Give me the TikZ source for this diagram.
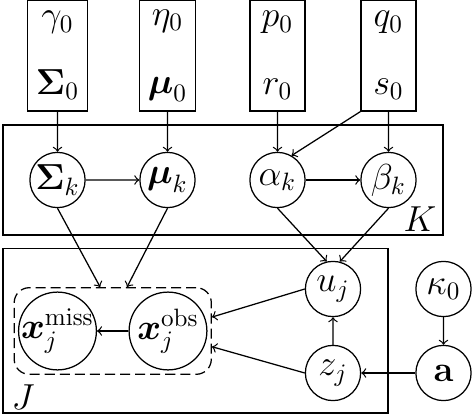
\documentclass[tikz,border=0pt]{standalone}
\usepackage{amsmath}
\usepackage{amssymb}
\usepackage{tikz}
\usetikzlibrary{arrows,fit}

\begin{document}
\begin{tikzpicture}[scale=0.7, line width=0.5pt,
  every node/.style={font=\fontsize{14}{17}\selectfont},
  latent/.style={circle,draw,minimum size=22pt,inner sep=0pt},
  obsnode/.style={circle,draw,minimum size=31pt,inner sep=-1pt},
  hyper/.style={rectangle,draw,minimum width=21.9pt,minimum height=44.2pt,align=center}]
\useasboundingbox (0,0) rectangle (9.48,8.34);
%%%%% Hyperparameters %%%%%
\node[hyper] (gs) at (1.15,7.23) {$\gamma_0$\\[10pt]$\boldsymbol{\Sigma}_0$};
\node[hyper] (em) at (3.35,7.23) {$\eta_0$\\[10pt]$\boldsymbol{\mu}_0$};
\node[hyper] (pr) at (5.55,7.23) {$p_0$\\[10pt]$r_0$};
\node[hyper] (qs) at (7.77,7.23) {$q_0$\\[10pt]$s_0$};
%%%%% Plate K %%%%%
\draw (0.06,3.64) rectangle (8.86,5.84);
\node (Klab) at (8.4,3.96) {$K$};
\node[latent] (Sk) at (1.15,4.74) {$\boldsymbol{\Sigma}_k$};
\node[latent] (mk) at (3.35,4.74) {$\boldsymbol{\mu}_k$};
\node[latent] (ak) at (5.55,4.74) {$\alpha_k$};
\node[latent] (bk) at (7.77,4.74) {$\beta_k$};
%%%%% Plate J %%%%%
\draw (0.06,0.08) rectangle (7.76,3.37);
\node (Jlab) at (0.46,0.4) {$J$};
\node[obsnode] (xmiss) at (1.15,1.72) {$\boldsymbol{x}_j^{\mathrm{miss}}$};
\node[obsnode] (xobs) at (3.36,1.72) {$\boldsymbol{x}_j^{\mathrm{obs}}$};
\node[draw,dash pattern=on 4pt off 2pt,rounded corners=6pt,inner sep=1.5pt,fit=(xmiss)(xobs)] (xbox) {};
\node[latent] (uj) at (6.66,2.56) {$u_j$};
\node[latent] (zj) at (6.66,0.88) {$z_j$};
\node[latent] (k0) at (8.87,2.56) {$\kappa_0$};
\node[latent] (av) at (8.87,0.88) {$\mathbf{a}$};
%%%%% Edges %%%%%
\draw[->] (gs) -- (Sk);
\draw[->] (em) -- (mk);
\draw[->] (pr) -- (ak);
\draw[->] (qs) -- (bk);
\draw[->] (qs.south west) -- (ak.60);
\draw[->] (Sk) -- (mk);
\draw[->] (ak) -- (bk);
\draw[->] (Sk.south) -- (xbox.106);
\draw[->] (mk.south) -- (xbox.72);
\draw[->] (ak.south) -- (uj.103);
\draw[->] (bk.south) -- (uj.76);
\draw[->] (uj.west) -- (xbox.8);
\draw[->] (zj.west) -- (xbox.-9);
\draw[->] (xobs) -- (xmiss);
\draw[->] (zj) -- (uj);
\draw[->] (av) -- (zj);
\draw[->] (k0) -- (av);
\end{tikzpicture}
\end{document}
